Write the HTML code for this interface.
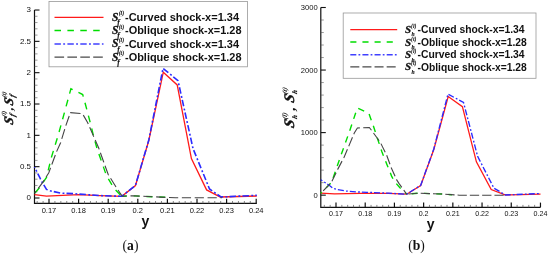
<!DOCTYPE html>
<html><head><meta charset="utf-8"><title>Figure</title>
<style>
html,body{margin:0;padding:0;background:#fff;}
svg{display:block;}
.tk{font-family:"Liberation Sans",sans-serif;fill:#111;}
.lg{font-family:"Liberation Sans",sans-serif;font-weight:bold;fill:#111;}
.sym{font-family:"Liberation Serif",serif;font-weight:bold;font-style:italic;fill:#111;}
.yl{font-family:"Liberation Sans",sans-serif;font-weight:bold;font-size:14px;fill:#111;}
.cap{font-family:"Liberation Serif","DejaVu Serif",serif;font-size:13.6px;fill:#111;}
</style></head>
<body>
<svg width="550" height="255" viewBox="0 0 550 255">
<rect width="550" height="255" fill="#fff"/>
<path d="M34.5,9.9 V203.4 H256.8" fill="none" stroke="#111" stroke-width="1.2"/>
<line x1="37.16" x2="37.16" y1="203.4" y2="201.0" stroke="#666" stroke-width="0.8"/>
<line x1="43.08" x2="43.08" y1="203.4" y2="201.0" stroke="#666" stroke-width="0.8"/>
<line x1="49.00" x2="49.00" y1="203.4" y2="198.70000000000002" stroke="#111" stroke-width="1.2"/>
<line x1="54.92" x2="54.92" y1="203.4" y2="201.0" stroke="#666" stroke-width="0.8"/>
<line x1="60.84" x2="60.84" y1="203.4" y2="201.0" stroke="#666" stroke-width="0.8"/>
<line x1="66.76" x2="66.76" y1="203.4" y2="201.0" stroke="#666" stroke-width="0.8"/>
<line x1="72.68" x2="72.68" y1="203.4" y2="201.0" stroke="#666" stroke-width="0.8"/>
<line x1="78.60" x2="78.60" y1="203.4" y2="198.70000000000002" stroke="#111" stroke-width="1.2"/>
<line x1="84.52" x2="84.52" y1="203.4" y2="201.0" stroke="#666" stroke-width="0.8"/>
<line x1="90.44" x2="90.44" y1="203.4" y2="201.0" stroke="#666" stroke-width="0.8"/>
<line x1="96.36" x2="96.36" y1="203.4" y2="201.0" stroke="#666" stroke-width="0.8"/>
<line x1="102.28" x2="102.28" y1="203.4" y2="201.0" stroke="#666" stroke-width="0.8"/>
<line x1="108.20" x2="108.20" y1="203.4" y2="198.70000000000002" stroke="#111" stroke-width="1.2"/>
<line x1="114.12" x2="114.12" y1="203.4" y2="201.0" stroke="#666" stroke-width="0.8"/>
<line x1="120.04" x2="120.04" y1="203.4" y2="201.0" stroke="#666" stroke-width="0.8"/>
<line x1="125.96" x2="125.96" y1="203.4" y2="201.0" stroke="#666" stroke-width="0.8"/>
<line x1="131.88" x2="131.88" y1="203.4" y2="201.0" stroke="#666" stroke-width="0.8"/>
<line x1="137.80" x2="137.80" y1="203.4" y2="198.70000000000002" stroke="#111" stroke-width="1.2"/>
<line x1="143.72" x2="143.72" y1="203.4" y2="201.0" stroke="#666" stroke-width="0.8"/>
<line x1="149.64" x2="149.64" y1="203.4" y2="201.0" stroke="#666" stroke-width="0.8"/>
<line x1="155.56" x2="155.56" y1="203.4" y2="201.0" stroke="#666" stroke-width="0.8"/>
<line x1="161.48" x2="161.48" y1="203.4" y2="201.0" stroke="#666" stroke-width="0.8"/>
<line x1="167.40" x2="167.40" y1="203.4" y2="198.70000000000002" stroke="#111" stroke-width="1.2"/>
<line x1="173.32" x2="173.32" y1="203.4" y2="201.0" stroke="#666" stroke-width="0.8"/>
<line x1="179.24" x2="179.24" y1="203.4" y2="201.0" stroke="#666" stroke-width="0.8"/>
<line x1="185.16" x2="185.16" y1="203.4" y2="201.0" stroke="#666" stroke-width="0.8"/>
<line x1="191.08" x2="191.08" y1="203.4" y2="201.0" stroke="#666" stroke-width="0.8"/>
<line x1="197.00" x2="197.00" y1="203.4" y2="198.70000000000002" stroke="#111" stroke-width="1.2"/>
<line x1="202.92" x2="202.92" y1="203.4" y2="201.0" stroke="#666" stroke-width="0.8"/>
<line x1="208.84" x2="208.84" y1="203.4" y2="201.0" stroke="#666" stroke-width="0.8"/>
<line x1="214.76" x2="214.76" y1="203.4" y2="201.0" stroke="#666" stroke-width="0.8"/>
<line x1="220.68" x2="220.68" y1="203.4" y2="201.0" stroke="#666" stroke-width="0.8"/>
<line x1="226.60" x2="226.60" y1="203.4" y2="198.70000000000002" stroke="#111" stroke-width="1.2"/>
<line x1="232.52" x2="232.52" y1="203.4" y2="201.0" stroke="#666" stroke-width="0.8"/>
<line x1="238.44" x2="238.44" y1="203.4" y2="201.0" stroke="#666" stroke-width="0.8"/>
<line x1="244.36" x2="244.36" y1="203.4" y2="201.0" stroke="#666" stroke-width="0.8"/>
<line x1="250.28" x2="250.28" y1="203.4" y2="201.0" stroke="#666" stroke-width="0.8"/>
<line x1="256.20" x2="256.20" y1="203.4" y2="198.70000000000002" stroke="#111" stroke-width="1.2"/>
<text x="49.0" y="212.7" text-anchor="middle" class="tk" font-size="7.5">0.17</text>
<text x="78.6" y="212.7" text-anchor="middle" class="tk" font-size="7.5">0.18</text>
<text x="108.2" y="212.7" text-anchor="middle" class="tk" font-size="7.5">0.19</text>
<text x="137.8" y="212.7" text-anchor="middle" class="tk" font-size="7.5">0.2</text>
<text x="167.4" y="212.7" text-anchor="middle" class="tk" font-size="7.5">0.21</text>
<text x="197.0" y="212.7" text-anchor="middle" class="tk" font-size="7.5">0.22</text>
<text x="226.6" y="212.7" text-anchor="middle" class="tk" font-size="7.5">0.23</text>
<text x="256.2" y="212.7" text-anchor="middle" class="tk" font-size="7.5">0.24</text>
<line x1="34.5" x2="39.5" y1="198.00" y2="198.00" stroke="#111" stroke-width="1.1"/>
<line x1="34.5" x2="37.5" y1="191.73" y2="191.73" stroke="#555" stroke-width="0.6"/>
<line x1="34.5" x2="37.5" y1="185.47" y2="185.47" stroke="#555" stroke-width="0.6"/>
<line x1="34.5" x2="37.5" y1="179.20" y2="179.20" stroke="#555" stroke-width="0.6"/>
<line x1="34.5" x2="37.5" y1="172.94" y2="172.94" stroke="#555" stroke-width="0.6"/>
<line x1="34.5" x2="39.5" y1="166.67" y2="166.67" stroke="#111" stroke-width="1.1"/>
<line x1="34.5" x2="37.5" y1="160.40" y2="160.40" stroke="#555" stroke-width="0.6"/>
<line x1="34.5" x2="37.5" y1="154.14" y2="154.14" stroke="#555" stroke-width="0.6"/>
<line x1="34.5" x2="37.5" y1="147.87" y2="147.87" stroke="#555" stroke-width="0.6"/>
<line x1="34.5" x2="37.5" y1="141.61" y2="141.61" stroke="#555" stroke-width="0.6"/>
<line x1="34.5" x2="39.5" y1="135.34" y2="135.34" stroke="#111" stroke-width="1.1"/>
<line x1="34.5" x2="37.5" y1="129.07" y2="129.07" stroke="#555" stroke-width="0.6"/>
<line x1="34.5" x2="37.5" y1="122.81" y2="122.81" stroke="#555" stroke-width="0.6"/>
<line x1="34.5" x2="37.5" y1="116.54" y2="116.54" stroke="#555" stroke-width="0.6"/>
<line x1="34.5" x2="37.5" y1="110.28" y2="110.28" stroke="#555" stroke-width="0.6"/>
<line x1="34.5" x2="39.5" y1="104.01" y2="104.01" stroke="#111" stroke-width="1.1"/>
<line x1="34.5" x2="37.5" y1="97.74" y2="97.74" stroke="#555" stroke-width="0.6"/>
<line x1="34.5" x2="37.5" y1="91.48" y2="91.48" stroke="#555" stroke-width="0.6"/>
<line x1="34.5" x2="37.5" y1="85.21" y2="85.21" stroke="#555" stroke-width="0.6"/>
<line x1="34.5" x2="37.5" y1="78.95" y2="78.95" stroke="#555" stroke-width="0.6"/>
<line x1="34.5" x2="39.5" y1="72.68" y2="72.68" stroke="#111" stroke-width="1.1"/>
<line x1="34.5" x2="37.5" y1="66.41" y2="66.41" stroke="#555" stroke-width="0.6"/>
<line x1="34.5" x2="37.5" y1="60.15" y2="60.15" stroke="#555" stroke-width="0.6"/>
<line x1="34.5" x2="37.5" y1="53.88" y2="53.88" stroke="#555" stroke-width="0.6"/>
<line x1="34.5" x2="37.5" y1="47.62" y2="47.62" stroke="#555" stroke-width="0.6"/>
<line x1="34.5" x2="39.5" y1="41.35" y2="41.35" stroke="#111" stroke-width="1.1"/>
<line x1="34.5" x2="37.5" y1="35.08" y2="35.08" stroke="#555" stroke-width="0.6"/>
<line x1="34.5" x2="37.5" y1="28.82" y2="28.82" stroke="#555" stroke-width="0.6"/>
<line x1="34.5" x2="37.5" y1="22.55" y2="22.55" stroke="#555" stroke-width="0.6"/>
<line x1="34.5" x2="37.5" y1="16.29" y2="16.29" stroke="#555" stroke-width="0.6"/>
<line x1="34.5" x2="39.5" y1="10.02" y2="10.02" stroke="#111" stroke-width="1.1"/>
<text x="31.0" y="200.4" text-anchor="end" class="tk" font-size="8.0">0</text>
<text x="31.0" y="169.1" text-anchor="end" class="tk" font-size="8.0">0.5</text>
<text x="31.0" y="137.7" text-anchor="end" class="tk" font-size="8.0">1</text>
<text x="31.0" y="106.4" text-anchor="end" class="tk" font-size="8.0">1.5</text>
<text x="31.0" y="75.1" text-anchor="end" class="tk" font-size="8.0">2</text>
<text x="31.0" y="43.8" text-anchor="end" class="tk" font-size="8.0">2.5</text>
<text x="31.0" y="12.4" text-anchor="end" class="tk" font-size="8.0">3</text>
<polyline points="34.5,194.7 46.5,196.1 78.7,194.7 100.0,195.6 121.8,196.3 135.5,185.5 148.8,140.5 163.3,72.2 177.2,84.9 191.4,158.5 206.6,189.9 220.3,197.0 256.8,196.0" fill="none" stroke="#ff1a1a" stroke-width="1.3"/>
<polyline points="34.5,193.5 40.0,187.0 46.5,177.5 51.3,157.7 58.7,133.5 70.9,88.8 82.7,94.5 85.6,105.0 90.5,123.6 93.6,136.4 97.3,149.5 101.8,162.3 106.4,175.5 114.1,188.4 121.8,196.3" fill="none" stroke="#00dd00" stroke-width="1.4" stroke-dasharray="6.9,6.4" stroke-dashoffset="12.60"/>
<polyline points="122.3,196.3 132.0,195.8 167.0,197.4" fill="none" stroke="#00dd00" stroke-width="1.4" stroke-dasharray="6.0,6.85" stroke-dashoffset="1.53"/>
<polyline points="34.5,167.2 39.7,177.3 41.1,180.5 46.5,189.4 50.2,190.8 60.2,193.1 73.8,193.7 100.0,195.6 121.8,196.3 135.5,185.3 148.8,140.0 163.0,68.4 178.0,80.6 193.0,148.5 209.5,189.0 221.0,197.0 256.8,195.3" fill="none" stroke="#2a2aff" stroke-width="1.6" stroke-dasharray="6.5,2.4,1.9,2.1" stroke-dashoffset="5.79"/>
<polyline points="34.5,193.5 42.9,182.2 48.8,172.7 52.2,163.5 56.5,151.8 60.6,142.7 65.5,126.6 70.4,112.6 82.5,113.7 87.7,122.7 93.6,136.4 98.6,147.7 103.6,161.8 108.2,174.5 116.8,188.2 122.3,196.3" fill="none" stroke="#444444" stroke-width="1.1" stroke-dasharray="10.2,3.6" stroke-dashoffset="7.45"/>
<polyline points="122.3,196.3 132.0,195.8 175.6,197.8 222.0,197.8" fill="none" stroke="#444444" stroke-width="1.1" stroke-dasharray="9.2,3.65" stroke-dashoffset="4.64"/>
<rect x="49" y="1.5" width="198.4" height="65.3" fill="#fff" stroke="#989898" stroke-width="0.8"/>
<line x1="54.5" x2="103.5" y1="17.3" y2="17.3" stroke="#ff1a1a" stroke-width="1.3"/>
<text x="112.0" y="20.8" class="sym" font-size="11.5" stroke="#111" stroke-width="0.3">S</text>
<text x="118.7" y="15.2" class="sym" font-size="5.8" stroke="#111" stroke-width="0.08">(l)</text>
<text x="117.2" y="24.9" class="sym" font-size="7.5" stroke="#111" stroke-width="0.15">f</text>
<text x="125" y="20.9" class="lg" font-size="10.8" textLength="114.1" lengthAdjust="spacingAndGlyphs">-Curved shock-x=1.34</text>
<line x1="54.5" x2="103.5" y1="30.6" y2="30.6" stroke="#00dd00" stroke-width="1.5" stroke-dasharray="6.50,6.40"/>
<text x="112.0" y="34.1" class="sym" font-size="11.5" stroke="#111" stroke-width="0.3">S</text>
<text x="118.7" y="28.5" class="sym" font-size="5.8" stroke="#111" stroke-width="0.08">(t)</text>
<text x="117.2" y="38.2" class="sym" font-size="7.5" stroke="#111" stroke-width="0.15">f</text>
<text x="125" y="34.2" class="lg" font-size="10.8" textLength="116.5" lengthAdjust="spacingAndGlyphs">-Oblique shock-x=1.28</text>
<line x1="54.5" x2="103.5" y1="43.9" y2="43.9" stroke="#4040ff" stroke-width="1.5" stroke-dasharray="6.40,2.30,1.90,2.30"/>
<text x="112.0" y="47.4" class="sym" font-size="11.5" stroke="#111" stroke-width="0.3">S</text>
<text x="118.7" y="41.8" class="sym" font-size="5.8" stroke="#111" stroke-width="0.08">(l)</text>
<text x="117.2" y="51.5" class="sym" font-size="7.5" stroke="#111" stroke-width="0.15">f</text>
<text x="125" y="47.5" class="lg" font-size="10.8" textLength="114.1" lengthAdjust="spacingAndGlyphs">-Curved shock-x=1.34</text>
<line x1="54.5" x2="103.5" y1="57.2" y2="57.2" stroke="#4a4a4a" stroke-width="1.3" stroke-dasharray="9.60,3.30"/>
<text x="112.0" y="60.7" class="sym" font-size="11.5" stroke="#111" stroke-width="0.3">S</text>
<text x="118.7" y="55.1" class="sym" font-size="5.8" stroke="#111" stroke-width="0.08">(t)</text>
<text x="117.2" y="64.8" class="sym" font-size="7.5" stroke="#111" stroke-width="0.15">f</text>
<text x="125" y="60.8" class="lg" font-size="10.8" textLength="116.5" lengthAdjust="spacingAndGlyphs">-Oblique shock-x=1.28</text>
<g transform="translate(12.7,108) rotate(-90) skewX(-14)"><text x="-17.2" y="0" class="sym" font-size="13" stroke="#111" stroke-width="0.45">S</text><text x="-8.4" y="2.6" class="sym" font-size="7.8" stroke="#111" stroke-width="0.2">f</text><text x="-10.8" y="-6.6" class="sym" font-size="6.2">(l)</text><text x="-2.4" y="0.5" class="sym" font-size="13">,</text><text x="2.1" y="0" class="sym" font-size="13" stroke="#111" stroke-width="0.45">S</text><text x="10.9" y="2.6" class="sym" font-size="7.8" stroke="#111" stroke-width="0.2">f</text><text x="8.5" y="-6.6" class="sym" font-size="6.2">(t)</text></g>
<text x="145.4" y="225.6" text-anchor="middle" class="yl">y</text>
<text x="130.5" y="249.5" text-anchor="middle" class="cap">(<tspan font-weight="bold">a</tspan>)</text>
<path d="M320.8,7.5 V207.3 H540.5" fill="none" stroke="#111" stroke-width="1.2"/>
<line x1="324.32" x2="324.32" y1="207.3" y2="204.9" stroke="#666" stroke-width="0.8"/>
<line x1="330.16" x2="330.16" y1="207.3" y2="204.9" stroke="#666" stroke-width="0.8"/>
<line x1="336.00" x2="336.00" y1="207.3" y2="202.60000000000002" stroke="#111" stroke-width="1.2"/>
<line x1="341.84" x2="341.84" y1="207.3" y2="204.9" stroke="#666" stroke-width="0.8"/>
<line x1="347.68" x2="347.68" y1="207.3" y2="204.9" stroke="#666" stroke-width="0.8"/>
<line x1="353.53" x2="353.53" y1="207.3" y2="204.9" stroke="#666" stroke-width="0.8"/>
<line x1="359.37" x2="359.37" y1="207.3" y2="204.9" stroke="#666" stroke-width="0.8"/>
<line x1="365.21" x2="365.21" y1="207.3" y2="202.60000000000002" stroke="#111" stroke-width="1.2"/>
<line x1="371.05" x2="371.05" y1="207.3" y2="204.9" stroke="#666" stroke-width="0.8"/>
<line x1="376.89" x2="376.89" y1="207.3" y2="204.9" stroke="#666" stroke-width="0.8"/>
<line x1="382.74" x2="382.74" y1="207.3" y2="204.9" stroke="#666" stroke-width="0.8"/>
<line x1="388.58" x2="388.58" y1="207.3" y2="204.9" stroke="#666" stroke-width="0.8"/>
<line x1="394.42" x2="394.42" y1="207.3" y2="202.60000000000002" stroke="#111" stroke-width="1.2"/>
<line x1="400.26" x2="400.26" y1="207.3" y2="204.9" stroke="#666" stroke-width="0.8"/>
<line x1="406.10" x2="406.10" y1="207.3" y2="204.9" stroke="#666" stroke-width="0.8"/>
<line x1="411.95" x2="411.95" y1="207.3" y2="204.9" stroke="#666" stroke-width="0.8"/>
<line x1="417.79" x2="417.79" y1="207.3" y2="204.9" stroke="#666" stroke-width="0.8"/>
<line x1="423.63" x2="423.63" y1="207.3" y2="202.60000000000002" stroke="#111" stroke-width="1.2"/>
<line x1="429.47" x2="429.47" y1="207.3" y2="204.9" stroke="#666" stroke-width="0.8"/>
<line x1="435.31" x2="435.31" y1="207.3" y2="204.9" stroke="#666" stroke-width="0.8"/>
<line x1="441.16" x2="441.16" y1="207.3" y2="204.9" stroke="#666" stroke-width="0.8"/>
<line x1="447.00" x2="447.00" y1="207.3" y2="204.9" stroke="#666" stroke-width="0.8"/>
<line x1="452.84" x2="452.84" y1="207.3" y2="202.60000000000002" stroke="#111" stroke-width="1.2"/>
<line x1="458.68" x2="458.68" y1="207.3" y2="204.9" stroke="#666" stroke-width="0.8"/>
<line x1="464.52" x2="464.52" y1="207.3" y2="204.9" stroke="#666" stroke-width="0.8"/>
<line x1="470.37" x2="470.37" y1="207.3" y2="204.9" stroke="#666" stroke-width="0.8"/>
<line x1="476.21" x2="476.21" y1="207.3" y2="204.9" stroke="#666" stroke-width="0.8"/>
<line x1="482.05" x2="482.05" y1="207.3" y2="202.60000000000002" stroke="#111" stroke-width="1.2"/>
<line x1="487.89" x2="487.89" y1="207.3" y2="204.9" stroke="#666" stroke-width="0.8"/>
<line x1="493.73" x2="493.73" y1="207.3" y2="204.9" stroke="#666" stroke-width="0.8"/>
<line x1="499.58" x2="499.58" y1="207.3" y2="204.9" stroke="#666" stroke-width="0.8"/>
<line x1="505.42" x2="505.42" y1="207.3" y2="204.9" stroke="#666" stroke-width="0.8"/>
<line x1="511.26" x2="511.26" y1="207.3" y2="202.60000000000002" stroke="#111" stroke-width="1.2"/>
<line x1="517.10" x2="517.10" y1="207.3" y2="204.9" stroke="#666" stroke-width="0.8"/>
<line x1="522.94" x2="522.94" y1="207.3" y2="204.9" stroke="#666" stroke-width="0.8"/>
<line x1="528.79" x2="528.79" y1="207.3" y2="204.9" stroke="#666" stroke-width="0.8"/>
<line x1="534.63" x2="534.63" y1="207.3" y2="204.9" stroke="#666" stroke-width="0.8"/>
<line x1="540.47" x2="540.47" y1="207.3" y2="202.60000000000002" stroke="#111" stroke-width="1.2"/>
<text x="336.0" y="216.2" text-anchor="middle" class="tk" font-size="7.1">0.17</text>
<text x="365.2" y="216.2" text-anchor="middle" class="tk" font-size="7.1">0.18</text>
<text x="394.4" y="216.2" text-anchor="middle" class="tk" font-size="7.1">0.19</text>
<text x="423.6" y="216.2" text-anchor="middle" class="tk" font-size="7.1">0.2</text>
<text x="452.8" y="216.2" text-anchor="middle" class="tk" font-size="7.1">0.21</text>
<text x="482.1" y="216.2" text-anchor="middle" class="tk" font-size="7.1">0.22</text>
<text x="511.3" y="216.2" text-anchor="middle" class="tk" font-size="7.1">0.23</text>
<text x="540.5" y="216.2" text-anchor="middle" class="tk" font-size="7.1">0.24</text>
<line x1="320.8" x2="325.8" y1="195.15" y2="195.15" stroke="#111" stroke-width="1.1"/>
<line x1="320.8" x2="323.8" y1="182.64" y2="182.64" stroke="#555" stroke-width="0.6"/>
<line x1="320.8" x2="323.8" y1="170.13" y2="170.13" stroke="#555" stroke-width="0.6"/>
<line x1="320.8" x2="323.8" y1="157.62" y2="157.62" stroke="#555" stroke-width="0.6"/>
<line x1="320.8" x2="323.8" y1="145.11" y2="145.11" stroke="#555" stroke-width="0.6"/>
<line x1="320.8" x2="325.8" y1="132.60" y2="132.60" stroke="#111" stroke-width="1.1"/>
<line x1="320.8" x2="323.8" y1="120.09" y2="120.09" stroke="#555" stroke-width="0.6"/>
<line x1="320.8" x2="323.8" y1="107.58" y2="107.58" stroke="#555" stroke-width="0.6"/>
<line x1="320.8" x2="323.8" y1="95.07" y2="95.07" stroke="#555" stroke-width="0.6"/>
<line x1="320.8" x2="323.8" y1="82.56" y2="82.56" stroke="#555" stroke-width="0.6"/>
<line x1="320.8" x2="325.8" y1="70.05" y2="70.05" stroke="#111" stroke-width="1.1"/>
<line x1="320.8" x2="323.8" y1="57.54" y2="57.54" stroke="#555" stroke-width="0.6"/>
<line x1="320.8" x2="323.8" y1="45.03" y2="45.03" stroke="#555" stroke-width="0.6"/>
<line x1="320.8" x2="323.8" y1="32.52" y2="32.52" stroke="#555" stroke-width="0.6"/>
<line x1="320.8" x2="323.8" y1="20.01" y2="20.01" stroke="#555" stroke-width="0.6"/>
<line x1="320.8" x2="325.8" y1="7.50" y2="7.50" stroke="#111" stroke-width="1.1"/>
<text x="317.7" y="197.6" text-anchor="end" class="tk" font-size="7.6">0</text>
<text x="317.7" y="135.0" text-anchor="end" class="tk" font-size="7.6">1000</text>
<text x="317.7" y="72.5" text-anchor="end" class="tk" font-size="7.6">2000</text>
<text x="317.7" y="9.9" text-anchor="end" class="tk" font-size="7.6">3000</text>
<polyline points="320.8,193.2 334.5,193.8 360.0,193.3 388.0,193.4 406.7,194.2 420.7,185.5 433.8,149.5 448.2,96.5 462.4,106.6 476.4,161.8 491.2,189.6 505.0,194.9 540.5,194.2" fill="none" stroke="#ff1a1a" stroke-width="1.3"/>
<polyline points="320.8,193.2 331.6,182.3 341.2,154.6 349.8,130.5 357.3,108.0 368.8,113.2 373.4,126.1 381.7,151.3 386.5,163.4 391.6,176.1 394.2,181.2 399.7,187.5 406.7,194.2" fill="none" stroke="#00dd00" stroke-width="1.4" stroke-dasharray="6.5,6.0" stroke-dashoffset="5.00"/>
<polyline points="406.7,194.2 418.2,193.2 443.6,194.1 452.0,194.7" fill="none" stroke="#00dd00" stroke-width="1.4" stroke-dasharray="5.8,6.5" stroke-dashoffset="7.26"/>
<polyline points="320.8,179.8 329.5,185.5 333.3,188.5 337.1,189.4 345.4,191.0 356.2,191.9 367.0,192.3 388.0,193.2 406.7,194.2 420.7,185.3 433.8,149.0 448.0,94.1 463.5,102.4 477.6,156.3 493.9,188.1 505.5,195.0 540.5,193.5" fill="none" stroke="#2a2aff" stroke-width="1.35" stroke-dasharray="6.1,2.2,1.8,2.0" stroke-dashoffset="4.27"/>
<polyline points="320.8,193.2 331.4,182.5 337.1,170.5 344.1,157.2 349.2,145.1 354.3,133.0 357.4,128.0 369.3,127.5 372.1,131.1 380.4,142.5 386.7,155.3 391.0,167.2 396.7,179.9 399.1,183.6 406.7,194.2" fill="none" stroke="#444444" stroke-width="1.1" stroke-dasharray="9.6,3.4" stroke-dashoffset="9.66"/>
<polyline points="406.7,194.2 418.2,193.2 443.6,194.1 459.4,195.2 505.0,195.2" fill="none" stroke="#444444" stroke-width="1.1" stroke-dasharray="9.3,3.0" stroke-dashoffset="10.56"/>
<rect x="343.2" y="13" width="192.8" height="65.3" fill="#fff" stroke="#989898" stroke-width="0.8"/>
<line x1="350.3" x2="397.2" y1="29.6" y2="29.6" stroke="#ff1a1a" stroke-width="1.3"/>
<text x="405.1" y="33.1" class="sym" font-size="11" stroke="#111" stroke-width="0.3">S</text>
<text x="411.1" y="28.0" class="sym" font-size="5.6" stroke="#111" stroke-width="0.08">(l)</text>
<text x="411.5" y="36.4" class="sym" font-size="5.6" stroke="#111" stroke-width="0.15">h</text>
<text x="417.5" y="33.2" class="lg" font-size="10.6" textLength="107.1" lengthAdjust="spacingAndGlyphs">-Curved shock-x=1.34</text>
<line x1="350.3" x2="397.2" y1="42.1" y2="42.1" stroke="#00dd00" stroke-width="1.5" stroke-dasharray="6.11,6.02"/>
<text x="405.1" y="45.6" class="sym" font-size="11" stroke="#111" stroke-width="0.3">S</text>
<text x="411.1" y="40.5" class="sym" font-size="5.6" stroke="#111" stroke-width="0.08">(t)</text>
<text x="411.5" y="48.9" class="sym" font-size="5.6" stroke="#111" stroke-width="0.15">h</text>
<text x="417.5" y="45.7" class="lg" font-size="10.6" textLength="109.3" lengthAdjust="spacingAndGlyphs">-Oblique shock-x=1.28</text>
<line x1="350.3" x2="397.2" y1="54.7" y2="54.7" stroke="#4040ff" stroke-width="1.5" stroke-dasharray="6.02,2.16,1.79,2.16"/>
<text x="405.1" y="58.2" class="sym" font-size="11" stroke="#111" stroke-width="0.3">S</text>
<text x="411.1" y="53.1" class="sym" font-size="5.6" stroke="#111" stroke-width="0.08">(l)</text>
<text x="411.5" y="61.5" class="sym" font-size="5.6" stroke="#111" stroke-width="0.15">h</text>
<text x="417.5" y="58.3" class="lg" font-size="10.6" textLength="107.1" lengthAdjust="spacingAndGlyphs">-Curved shock-x=1.34</text>
<line x1="350.3" x2="397.2" y1="66.9" y2="66.9" stroke="#4a4a4a" stroke-width="1.3" stroke-dasharray="9.02,3.10"/>
<text x="405.1" y="70.4" class="sym" font-size="11" stroke="#111" stroke-width="0.3">S</text>
<text x="411.1" y="65.3" class="sym" font-size="5.6" stroke="#111" stroke-width="0.08">(t)</text>
<text x="411.5" y="73.7" class="sym" font-size="5.6" stroke="#111" stroke-width="0.15">h</text>
<text x="417.5" y="70.5" class="lg" font-size="10.6" textLength="109.3" lengthAdjust="spacingAndGlyphs">-Oblique shock-x=1.28</text>
<g transform="translate(294.2,110) rotate(-90) skewX(-14)"><text x="-18.4" y="0" class="sym" font-size="14.5" stroke="#111" stroke-width="0.45">S</text><text x="-8.6" y="2.9" class="sym" font-size="6.8" stroke="#111" stroke-width="0.2">h</text><text x="-11.3" y="-7.4" class="sym" font-size="6.9">(l)</text><text x="-0.6" y="0.5" class="sym" font-size="14.5">,</text><text x="6.8" y="0" class="sym" font-size="14.5" stroke="#111" stroke-width="0.45">S</text><text x="16.6" y="2.9" class="sym" font-size="6.8" stroke="#111" stroke-width="0.2">h</text><text x="13.9" y="-7.4" class="sym" font-size="6.9">(t)</text></g>
<text x="430.7" y="229" text-anchor="middle" class="yl">y</text>
<text x="416.5" y="249.7" text-anchor="middle" class="cap">(<tspan font-weight="bold">b</tspan>)</text>
</svg>
</body></html>
